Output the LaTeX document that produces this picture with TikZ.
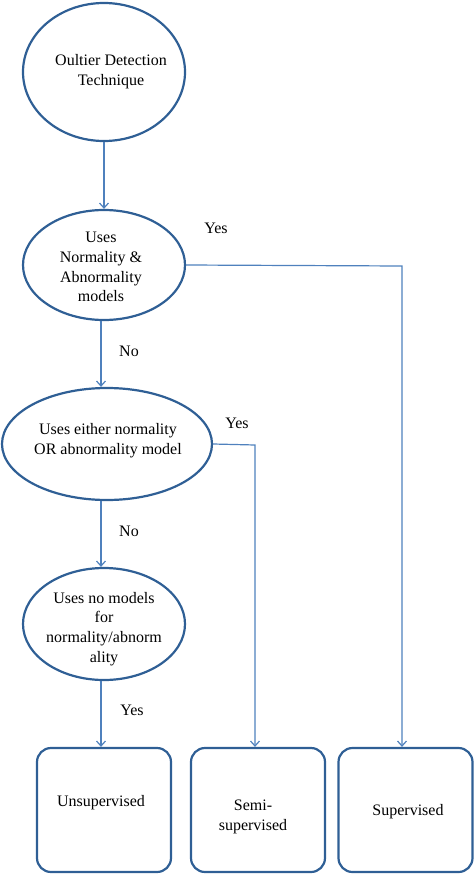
\documentclass[tikz,border=0pt]{standalone}
\usepackage{fontspec}
\setmainfont{Liberation Serif}
\usetikzlibrary{arrows.meta,shapes.geometric}
\definecolor{edgeblue}{HTML}{2F5F95}
\definecolor{linkblue}{HTML}{4F81BD}
\begin{document}
\begin{tikzpicture}[x=1pt,y=-1pt,
  oval/.style={draw=edgeblue,line width=2.2pt,ellipse,inner sep=0pt},
  box/.style={draw=edgeblue,line width=2.2pt,rounded corners=14pt,minimum width=134pt,minimum height=124pt,inner sep=0pt},
  txt/.style={font=\fontsize{16}{19.7}\selectfont,align=center,inner sep=0pt},
  link/.style={draw=linkblue,line width=1.2pt,-{Straight Barb[length=5pt,width=9pt]}},
  lbl/.style={font=\fontsize{16}{19}\selectfont,inner sep=0pt}]
\useasboundingbox (0,0) rectangle (474,875);
\node[oval,minimum width=162pt,minimum height=138pt] (e1) at (104,72) {};
\node[txt] (t1) at (111,72) {Oultier Detection\\Technique};
\node[oval,minimum width=162pt,minimum height=110pt] (e2) at (104,265) {};
\node[txt] (t2) at (101,267) {Uses\\Normality \&\\Abnormality\\models};
\node[oval,minimum width=210pt,minimum height=112pt] (e3) at (107,444) {};
\node[txt] (t3) at (108,441) {Uses either normality\\OR abnormality model};
\node[oval,minimum width=162pt,minimum height=112pt] (e4) at (104,624) {};
\node[txt] (t4) at (104,629) {Uses no models\\for\\normality/abnorm\\ality};
\node[box] (b1) at (104,810) {};
\node[txt] (tb1) at (101,803) {Unsupervised};
\node[box] (b2) at (258,810) {};
\node[txt] (tb2) at (253,817) {Semi-\\supervised};
\node[box] (b3) at (405.5,810) {};
\node[txt] (tb3) at (408,812) {Supervised};
\coordinate (ax) at (101,0);
\coordinate (c2) at (402,266);
\coordinate (c3) at (255,445);
\draw[link] (e1.south) -- (e1.south |- e2.north);
\draw[link] (e2.east) -- (c2) -- (c2 |- b3.north);
\draw[link] (ax |- e2.south) -- (ax |- e3.north);
\draw[link] (e3.east) -- (c3) -- (c3 |- b2.north);
\draw[link] (ax |- e3.south) -- (ax |- e4.north);
\draw[link] (ax |- e4.south) -- (ax |- b1.north);
\node[lbl] (y1) at (216,228) {Yes};
\node[lbl] (n1) at (129,351) {No};
\node[lbl] (y2) at (237,423) {Yes};
\node[lbl] (n2) at (129,531) {No};
\node[lbl] (y3) at (132,710) {Yes};
\end{tikzpicture}
\end{document}
